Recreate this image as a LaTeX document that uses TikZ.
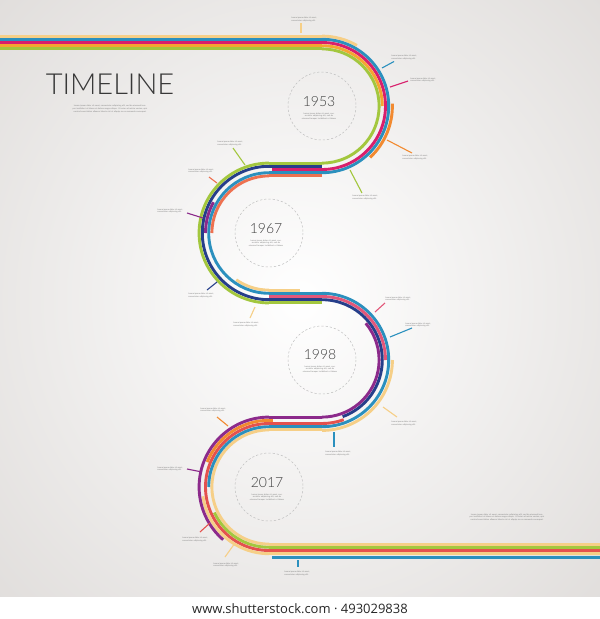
\documentclass[tikz,border=0pt]{standalone}
\usepackage{fontspec}
\usetikzlibrary{positioning}
\setmainfont{Lato}
\newfontfamily\thinfont{Lato Light}
\newfontfamily\footfont{Open Sans}
\definecolor{cpeach}{HTML}{F6CF87}
\definecolor{cblue}{HTML}{2B90BE}
\definecolor{cmag}{HTML}{D81F6C}
\definecolor{cyel}{HTML}{F6A531}
\definecolor{cgreen}{HTML}{A3C73E}
\definecolor{ccoral}{HTML}{EE7150}
\definecolor{cnavy}{HTML}{263E8A}
\definecolor{cpurp}{HTML}{8C2A8B}
\definecolor{cpink}{HTML}{E2577A}
\definecolor{cred}{HTML}{E4524E}
\definecolor{corange}{HTML}{F28A30}
\definecolor{bggrey}{HTML}{E0DDDB}
\definecolor{notegrey}{HTML}{858585}
\tikzset{
  lane/.style={line width=2.9pt},
  tick/.style={line width=1.1pt},
  yearring/.style={draw=gray!50,line width=0.5pt,dash pattern=on 2.2pt off 2pt},
  year/.style={font=\thinfont\fontsize{14}{14}\selectfont,text=black!75},
  note/.style={font=\fontsize{2.1}{2.6}\selectfont,text=notegrey,align=left,inner sep=0pt},
  blurb/.style={font=\fontsize{2.1}{2.6}\selectfont,text=notegrey,align=center,inner sep=0pt,text width=#1},
}
% one piece of a lane on a bend: colour, centre x, centre y, radius, from, to
\newcommand\lanearc[6]{\draw[lane,#1] ([shift={(#5:#4)}]#2,#3) arc[start angle=#5,end angle=#6,radius=#4];}
\begin{document}
\begin{tikzpicture}[x=1pt,y=-1pt]
%\draw[step=50,thin,gray](0,0) grid (600,619);
\useasboundingbox (0,0) rectangle (600,619);
\begin{scope}
\clip (0,0) rectangle (600,597);
\shade[inner color=white,outer color=bggrey] (-130,-150) rectangle (730,750);
\end{scope}
\fill[white] (0,597) rectangle (600,619);

% title
\node[font=\thinfont\fontsize{29}{29}\selectfont,text=black!78] (title) at (110,84) {TIMELINE};
\node[blurb=108pt] (intro) at (110,109) {Lorem ipsum dolor sit amet, consectetur adipiscing elit, sed do eiusmod tempor incididunt ut labore et dolore magna aliqua. Ut enim ad minim veniam, quis nostrud exercitation ullamco laboris nisi ut aliquip ex ea commodo consequat.};

% year rings
\draw[yearring] (322,106) circle (34);
\draw[yearring] (269,233) circle (34);
\draw[yearring] (322,360) circle (34);
\draw[yearring] (269,487) circle (34);
\node[year] (y1953) at (319,102) {1953};
\node[year] (y1967) at (266,229) {1967};
\node[year] (y1998) at (320,355) {1998};
\node[year] (y2017) at (267,483) {2017};
\node[blurb=36pt,below=2pt of y1953] (t1953) {Lorem ipsum dolor sit amet, consectetur adipiscing elit, sed do eiusmod tempor incididunt ut labore};
\node[blurb=36pt,below=2pt of y1967] (t1967) {Lorem ipsum dolor sit amet, consectetur adipiscing elit, sed do eiusmod tempor incididunt ut labore};
\node[blurb=36pt,below=2pt of y1998] (t1998) {Lorem ipsum dolor sit amet, consectetur adipiscing elit, sed do eiusmod tempor incididunt ut labore};
\node[blurb=36pt,below=2pt of y2017] (t2017) {Lorem ipsum dolor sit amet, consectetur adipiscing elit, sed do eiusmod tempor incididunt ut labore};

% top run
\draw[lane,cpeach] (0,36.1) -- (322,36.1);
\draw[lane,cblue] (0,39.3) -- (322,39.3);
\draw[lane,cmag] (0,42.5) -- (322,42.5);
\draw[lane,cyel] (0,45.7) -- (322,45.7);
\draw[lane,cgreen] (0,48.9) -- (322,48.9);
% bend 1953
\lanearc{cpeach}{322}{106}{69.9}{-90}{-60}
\lanearc{corange}{322}{106}{70.4}{-2}{47}
\lanearc{cblue}{322}{106}{66.7}{-90}{90}
\lanearc{cmag}{322}{106}{63.5}{-90}{90}
\lanearc{cyel}{322}{106}{60.3}{-90}{0}
\lanearc{cgreen}{322}{106}{57.1}{-90}{90}
% run 2
\draw[lane,ccoral] (322,175.9) -- (269,175.9);
\draw[lane,cblue] (322,172.7) -- (269,172.7);
\draw[lane,cmag] (322,169.5) -- (272,169.5);
\draw[lane,cnavy] (322,166.3) -- (269,166.3);
\draw[lane,cgreen] (322,163.1) -- (269,163.1);
% bend 1967
\lanearc{ccoral}{269}{233}{57.1}{270}{180}
\lanearc{cpeach}{269}{233}{57.1}{125}{90}
\lanearc{cblue}{269}{233}{60.3}{270}{90}
\lanearc{cpurp}{269}{233}{63.5}{209}{180}
\lanearc{cnavy}{269}{233}{66.7}{270}{90}
\lanearc{cgreen}{269}{233}{69.9}{270}{90}
% run 3
\draw[lane,cpeach] (269,290.1) -- (300,290.1);
\draw[lane,cblue] (269,293.3) -- (322,293.3);
\draw[lane,cpink] (269,296.5) -- (322,296.5);
\draw[lane,cnavy] (269,299.7) -- (322,299.7);
\draw[lane,cgreen] (269,302.9) -- (322,302.9);
% bend 1998
\lanearc{cpeach}{322}{360}{70.4}{0}{90}
\lanearc{cblue}{322}{360}{66.7}{-90}{90}
\lanearc{cpink}{322}{360}{63.5}{-90}{0}
\lanearc{cred}{322}{360}{63.5}{70}{90}
\lanearc{cnavy}{322}{360}{60.3}{-90}{70}
\lanearc{cpurp}{322}{360}{57.1}{-40}{90}
% run 4
\draw[lane,cpeach] (322,429.9) -- (269,429.9);
\draw[lane,cblue] (322,426.7) -- (269,426.7);
\draw[lane,cred] (322,423.5) -- (269,423.5);
\draw[lane,corange] (273,420.3) -- (269,420.3);
\draw[lane,cpurp] (322,417.1) -- (269,417.1);
% bend 2017
\lanearc{cpeach}{269}{487}{57.1}{270}{90}
\lanearc{cblue}{269}{487}{60.3}{270}{180}
\lanearc{cgreen}{269}{487}{60.3}{155}{90}
\lanearc{cred}{269}{487}{63.5}{270}{90}
\lanearc{corange}{269}{487}{66.7}{270}{202}
\lanearc{cpeach}{269}{487}{66.7}{172}{90}
\lanearc{cpurp}{269}{487}{69.9}{270}{131}
% bottom run
\draw[lane,cpeach] (269,544.1) -- (600,544.1);
\draw[lane,cgreen] (269,547.3) -- (600,547.3);
\draw[lane,cred] (269,550.5) -- (600,550.5);
\draw[lane,cpeach] (269,553.7) -- (600,553.7);
\draw[lane,cblue] (272,557.4) -- (600,557.4);

% ticks and their notes
\foreach \c/\xa/\ya/\xb/\yb/\lx/\ly [count=\i] in {
  cpeach/301/33/301/23/304/19.5, cblue/382/68/394/61.5/404/57.5,
  cmag/390/87/408/81/423/80, corange/387/140/412/153/415/157.5,
  cgreen/350/170/362/193/365/197.5, cgreen/245/165/233/148/230/143.5,
  ccoral/217/183/209/177/201/171, cpurp/203/218/187/213/170/211,
  cnavy/217/282/207/290/201/295.5, cpeach/255/307/250/318/246/324.5,
  cpink/375/312/385/303/398/299, cblue/390/337/412/328/418/325,
  cpeach/383/407/397/417/404/423.5, cblue/334/432/334/447/338/453.5,
  corange/228/426/217/417/213/410, cpurp/202/472/187/469/170/469,
  cred/210/523/200/532/195/539.5, cpeach/235/543/225/557/226/565,
  cblue/298/560/298/567/297/573.5}{
  \coordinate (ta\i) at (\xa,\ya);
  \coordinate (tb\i) at (\xb,\yb);
  \draw[tick,\c] (ta\i) -- (tb\i);
  \node[note] (note\i) at (\lx,\ly) {Lorem ipsum dolor sit amet,\\consectetur adipiscing elit.};
}

\node[blurb=108pt] (outro) at (507,517) {Lorem ipsum dolor sit amet, consectetur adipiscing elit, sed do eiusmod tempor incididunt ut labore et dolore magna aliqua. Ut enim ad minim veniam, quis nostrud exercitation ullamco laboris nisi ut aliquip ex ea commodo consequat.};

\node[font=\footfont\fontsize{13}{13}\selectfont,text=black!85] (footer) at (300,608.5) {www.shutterstock.com · 493029838};
\end{tikzpicture}
\end{document}
